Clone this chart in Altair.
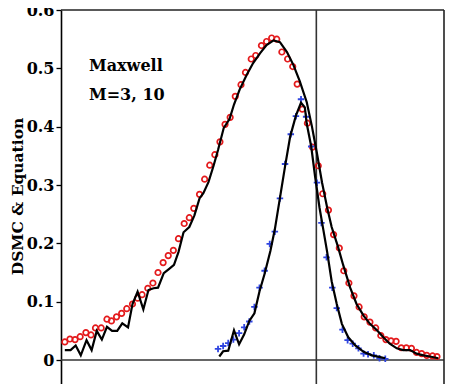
import altair as alt
import pandas as pd

# DSMC data, M=3 (red circles)
red_x = [-3.94, -3.86, -3.78, -3.70, -3.61, -3.53, -3.46, -3.37, -3.28, -3.21,
         -3.13, -3.05, -2.97, -2.88, -2.80, -2.73, -2.64, -2.56, -2.48, -2.40,
         -2.32, -2.24, -2.16, -2.07, -1.99, -1.92, -1.83, -1.75, -1.67, -1.59,
         -1.51, -1.43, -1.35, -1.27, -1.18, -1.11, -1.02, -0.95, -0.86, -0.78,
         -0.70, -0.62, -0.54, -0.45, -0.37, -0.30, -0.22, -0.14, -0.06, 0.03,
         0.10, 0.19, 0.27, 0.36, 0.43, 0.51, 0.59, 0.67, 0.75, 0.84,
         0.93, 1.01, 1.09, 1.17, 1.25, 1.33, 1.41, 1.49, 1.57, 1.65,
         1.73, 1.82, 1.89]
red_y = [0.031, 0.036, 0.035, 0.040, 0.047, 0.043, 0.055, 0.055, 0.070, 0.067,
         0.074, 0.080, 0.088, 0.096, 0.106, 0.112, 0.123, 0.132, 0.150, 0.167,
         0.179, 0.188, 0.208, 0.234, 0.244, 0.260, 0.284, 0.310, 0.334, 0.352,
         0.374, 0.404, 0.416, 0.452, 0.472, 0.493, 0.516, 0.522, 0.539, 0.546,
         0.552, 0.550, 0.528, 0.516, 0.503, 0.473, 0.430, 0.406, 0.365, 0.333,
         0.285, 0.257, 0.215, 0.192, 0.153, 0.132, 0.110, 0.091, 0.074, 0.065,
         0.055, 0.042, 0.035, 0.033, 0.032, 0.021, 0.021, 0.020, 0.013, 0.011,
         0.008, 0.007, 0.006]

# Equation, M=3 (black line)
m3_x = [-3.94, -3.85, -3.77, -3.69, -3.60, -3.52, -3.44, -3.36, -3.28, -3.20,
        -3.12, -3.04, -2.95, -2.88, -2.80, -2.71, -2.63, -2.55, -2.48, -2.39,
        -2.31, -2.23, -2.16, -2.08, -1.99, -1.91, -1.83, -1.77, -1.69, -1.61,
        -1.54, -1.45, -1.36, -1.29, -1.20, -1.09, -0.99, -0.88, -0.78, -0.67,
        -0.57, -0.46, -0.36, -0.26, -0.15, -0.07, 0.01, 0.09, 0.17, 0.24,
        0.34, 0.42, 0.53, 0.63, 0.74, 0.84, 0.95, 1.05, 1.15, 1.26,
        1.36, 1.47, 1.57, 1.68, 1.78, 1.91]
m3_y = [0.017, 0.017, 0.025, 0.008, 0.034, 0.017, 0.050, 0.035, 0.057, 0.050,
        0.050, 0.063, 0.056, 0.096, 0.117, 0.087, 0.120, 0.123, 0.124, 0.149,
        0.156, 0.163, 0.185, 0.219, 0.228, 0.248, 0.277, 0.286, 0.305, 0.333,
        0.360, 0.398, 0.413, 0.438, 0.464, 0.489, 0.509, 0.526, 0.540, 0.548,
        0.545, 0.528, 0.506, 0.478, 0.442, 0.401, 0.354, 0.304, 0.261, 0.228,
        0.194, 0.163, 0.124, 0.096, 0.076, 0.062, 0.051, 0.039, 0.028, 0.020,
        0.017, 0.017, 0.011, 0.008, 0.006, 0.003]

# Equation, M=10 (black line)
m10_x = [-1.52, -1.46, -1.38, -1.29, -1.21, -1.13, -1.05, -0.97, -0.89, -0.81,
         -0.72, -0.65, -0.57, -0.49, -0.41, -0.32, -0.24, -0.18, -0.15, -0.08,
         -0.02, 0.05, 0.11, 0.17, 0.24, 0.32, 0.40, 0.50, 0.61, 0.74,
         0.87, 1.00, 1.08]
m10_y = [0.006, 0.015, 0.016, 0.051, 0.027, 0.044, 0.067, 0.080, 0.118, 0.148,
         0.187, 0.224, 0.278, 0.332, 0.383, 0.419, 0.441, 0.433, 0.405, 0.366,
         0.315, 0.261, 0.223, 0.185, 0.135, 0.096, 0.062, 0.039, 0.025, 0.014,
         0.008, 0.005, 0.003]

# DSMC data, M=10 (blue crosses)
blue_x = [-1.54, -1.46, -1.38, -1.30, -1.21, -1.13, -1.05, -0.97, -0.89, -0.81,
          -0.73, -0.65, -0.57, -0.49, -0.40, -0.32, -0.24, -0.16, -0.08, 0.01,
          0.08, 0.16, 0.25, 0.32, 0.41, 0.49, 0.57, 0.66, 0.74, 0.81,
          0.90, 0.99, 1.08]
blue_y = [0.019, 0.024, 0.029, 0.035, 0.046, 0.056, 0.066, 0.091, 0.124, 0.153,
          0.199, 0.220, 0.277, 0.336, 0.387, 0.418, 0.447, 0.417, 0.366, 0.304,
          0.235, 0.176, 0.124, 0.089, 0.052, 0.034, 0.028, 0.020, 0.011, 0.010,
          0.008, 0.003, 0.002]

y_ticks = [0, 0.05, 0.1, 0.15, 0.2, 0.25, 0.3, 0.35, 0.4, 0.45, 0.5, 0.55, 0.6]
legend_lines = ["Maxwell", "M=3, 10"]

FONT = "DejaVu Serif"
X_DOM = [-4, 2]
Y_DOM = [-0.0411, 0.6]

red_df = pd.DataFrame({"x": red_x, "y": red_y})
blue_df = pd.DataFrame({"x": blue_x, "y": blue_y})
m3_df = pd.DataFrame({"x": m3_x, "y": m3_y})
m10_df = pd.DataFrame({"x": m10_x, "y": m10_y})
hrule_df = pd.DataFrame({"y": [0.0, 0.6], "c": ["#333333", "#222222"]})
vrule_df = pd.DataFrame({"x": [0.0, 2.0], "c": ["#333333", "#222222"]})
text_df = pd.DataFrame({"t": legend_lines, "py": [61, 90]})

xs = alt.Scale(domain=X_DOM, nice=False, zero=False)
ys = alt.Scale(domain=Y_DOM, nice=False, zero=False)

major = "round(datum.value*20) % 2 == 0"

y_axis = alt.Axis(
    values=y_ticks,
    labelExpr=f"{major} ? format(datum.value, '.1~f') : ''",
    tickSize={"condition": {"test": major, "value": 5}, "value": 3},
    tickColor="black", tickWidth=1.3,
    domainColor="black", domainWidth=1.6,
    labelFont=FONT, labelFontSize=16, labelFontWeight="bold", labelColor="black",
    labelPadding=2, labelFlush=False,
    grid=False,
    title="DSMC & Equation",
    titleFont=FONT, titleFontSize=15.5, titleFontWeight="bold", titleColor="black",
    titleAngle=270, titleAlign="center", titleBaseline="alphabetic",
    titleX=-39, titleY=186,
)

base_x = alt.X("x:Q", scale=xs, axis=None)

hrules = alt.Chart(hrule_df).mark_rule(strokeWidth=1.6).encode(
    y=alt.Y("y:Q", scale=ys, axis=y_axis),
    color=alt.Color("c:N", scale=None),
)
vrules = alt.Chart(vrule_df).mark_rule(strokeWidth=1.6).encode(
    x=base_x,
    color=alt.Color("c:N", scale=None),
)

red_pts = alt.Chart(red_df).mark_point(
    shape="circle", filled=False, color="#e41a1c", size=30, strokeWidth=1.7, opacity=1
).encode(x=base_x, y=alt.Y("y:Q", scale=ys))

blue_pts = alt.Chart(blue_df).mark_point(
    shape="M-1,0L1,0M0,-1L0,1", filled=False, color="#2f45e0", size=42, strokeWidth=1.8, opacity=1
).encode(x=base_x, y=alt.Y("y:Q", scale=ys))

m3_line = alt.Chart(m3_df).mark_line(color="black", strokeWidth=2.2).encode(
    x=base_x, y=alt.Y("y:Q", scale=ys))
m10_line = alt.Chart(m10_df).mark_line(color="black", strokeWidth=2.2).encode(
    x=base_x, y=alt.Y("y:Q", scale=ys))

texts = alt.Chart(text_df).mark_text(
    font=FONT, fontSize=16, fontWeight="bold", color="black",
    align="left", baseline="alphabetic"
).encode(x=alt.value(28), y=alt.Y("py:Q", scale=None), text="t:N")

chart = alt.layer(
    hrules, vrules, red_pts, blue_pts, m3_line, m10_line, texts
).properties(
    width=383, height=374,
    autosize=alt.AutoSizeParams(type="none"),
    padding={"left": 53, "top": 2, "right": 5, "bottom": 0},
).configure_view(stroke=None)

chart.save("out.html", embed_options={"renderer": "svg", "actions": False})
